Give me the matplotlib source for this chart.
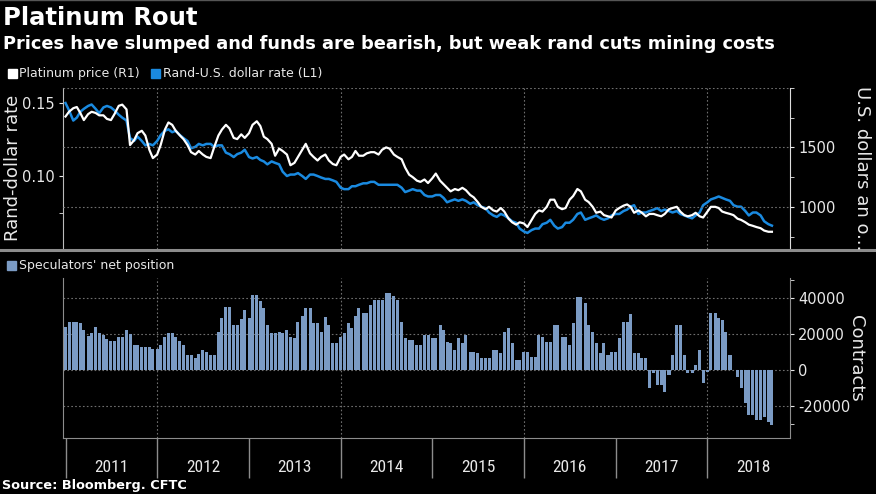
import matplotlib
matplotlib.use('Agg')
import matplotlib.pyplot as plt
from matplotlib import font_manager
from matplotlib.lines import Line2D
from matplotlib.patches import Rectangle
import pandas as pd

# semi-monthly readings, Jan 2011 - Sep 2018
platinum = [
    1760, 1800, 1830, 1840, 1790, 1730, 1780, 1800, 1790, 1770, 1770, 1740,
    1730, 1780, 1850, 1860, 1820, 1520, 1560, 1620, 1640, 1600, 1480, 1410,
    1440, 1520, 1650, 1710, 1690, 1640, 1600, 1570, 1520, 1460, 1440, 1470,
    1440, 1420, 1410, 1500, 1600, 1650, 1690, 1660, 1580, 1570, 1610, 1580,
    1620, 1690, 1720, 1680, 1590, 1570, 1530, 1430, 1490, 1470, 1440, 1350,
    1370, 1420, 1480, 1530, 1450, 1420, 1390, 1420, 1440, 1390, 1360, 1350,
    1420, 1440, 1400, 1420, 1470, 1430, 1430, 1450, 1460, 1460, 1440, 1480,
    1500, 1490, 1440, 1420, 1400, 1330, 1270, 1250, 1220, 1210, 1230, 1200,
    1240, 1280, 1220, 1190, 1160, 1130, 1150, 1140, 1160, 1140, 1100, 1080,
    1040, 1000, 980, 1000, 970, 960, 990, 960, 900, 870, 850, 870,
    860, 830, 890, 940, 970, 960, 1000, 1060, 1060, 1000, 980, 990,
    1060, 1090, 1150, 1130, 1060, 1040, 1000, 950, 960, 930, 920, 910,
    970, 990, 1010, 1020, 1000, 950, 970, 950, 920, 940, 940, 930,
    920, 940, 980, 990, 1000, 960, 930, 920, 930, 950, 920, 910,
    960, 1000, 1000, 990, 960, 950, 940, 930, 900, 890, 870, 850,
    840, 830, 820, 800, 790, 790,
]

rand_usd = [
    0.150, 0.145, 0.138, 0.140, 0.144, 0.146, 0.148, 0.149, 0.146, 0.143, 0.147, 0.148,
    0.147, 0.145, 0.142, 0.140, 0.138, 0.126, 0.124, 0.127, 0.124, 0.121, 0.122, 0.121,
    0.124, 0.128, 0.131, 0.132, 0.130, 0.131, 0.128, 0.126, 0.124, 0.119, 0.120, 0.122,
    0.121, 0.122, 0.122, 0.120, 0.121, 0.121, 0.116, 0.115, 0.113, 0.115, 0.116, 0.118,
    0.113, 0.112, 0.113, 0.111, 0.110, 0.108, 0.110, 0.109, 0.108, 0.103, 0.100, 0.101,
    0.101, 0.102, 0.100, 0.098, 0.101, 0.101, 0.100, 0.099, 0.098, 0.098, 0.097, 0.096,
    0.092, 0.091, 0.091, 0.093, 0.093, 0.094, 0.095, 0.095, 0.096, 0.096, 0.094, 0.094,
    0.094, 0.094, 0.094, 0.094, 0.092, 0.089, 0.090, 0.091, 0.090, 0.090, 0.087, 0.086,
    0.086, 0.087, 0.087, 0.085, 0.082, 0.083, 0.084, 0.083, 0.084, 0.083, 0.081, 0.082,
    0.080, 0.079, 0.078, 0.075, 0.073, 0.072, 0.074, 0.073, 0.071, 0.069, 0.068, 0.064,
    0.062, 0.061, 0.063, 0.064, 0.064, 0.067, 0.068, 0.070, 0.066, 0.064, 0.065, 0.068,
    0.068, 0.070, 0.074, 0.075, 0.070, 0.071, 0.072, 0.073, 0.071, 0.070, 0.071, 0.073,
    0.074, 0.074, 0.076, 0.077, 0.079, 0.080, 0.074, 0.075, 0.075, 0.076, 0.077, 0.078,
    0.076, 0.077, 0.076, 0.075, 0.076, 0.074, 0.073, 0.072, 0.071, 0.073, 0.075, 0.080,
    0.082, 0.084, 0.085, 0.086, 0.085, 0.084, 0.083, 0.080, 0.079, 0.079, 0.076, 0.073,
    0.075, 0.075, 0.073, 0.069, 0.067, 0.066,
]

# thousands of contracts
specs_k = [
    23.9, 26.7, 26.7, 26.7, 26, 22, 19, 20.5, 24, 20.5, 19.4, 17,
    16, 16, 18, 18, 22, 20, 14, 14, 12.8, 12.8, 12.5, 11.7,
    11.7, 14, 18, 20.6, 20.6, 18.3, 16, 14, 8.3, 8.3, 6.7, 9,
    11, 10, 8.3, 8.3, 21, 29, 35, 35, 25, 25, 28, 33,
    29, 41.7, 41.7, 38, 34.4, 25, 20.6, 20.6, 21, 20.6, 22, 18,
    17.8, 26.7, 30, 34.4, 34.4, 26, 26, 21, 29.4, 25, 15, 15,
    18, 20.6, 26, 23.3, 30, 34.4, 31.7, 31.7, 36, 38.9, 38.9, 38.9,
    42.8, 42.8, 41, 38.9, 26.7, 17.8, 16.7, 16.7, 13.9, 13.9, 19.4, 19.4,
    17.8, 17.8, 25, 22.2, 15.5, 15, 11.1, 17.8, 15, 19.4, 10, 10,
    9.4, 6.7, 6.7, 6.7, 11.1, 11.1, 9.4, 21.1, 23.3, 15, 5.6, 5.6,
    10, 10, 7.2, 7.2, 19.4, 18.3, 15.5, 15.5, 25, 25, 18.3, 18.3,
    13.9, 26.1, 40.5, 40.5, 37.2, 25, 21.1, 15, 9.4, 15, 8.3, 10,
    10, 17.8, 26.7, 26.7, 31.1, 9.4, 9.4, 6.7, 6.7, -10, -1.7, -8.3,
    -8.3, -12.2, -2.8, 8.3, 25, 25, 8.3, -1.7, -1.7, 2.8, 11.1, -7.2,
    -1.1, 31.7, 31.7, 28.9, 27.8, 21.1, 8.3, 0, -3.9, -10, -18.3, -25,
    -25, -27.8, -27.8, -26.1, -28.9, -30.6,
]

years = [2011, 2012, 2013, 2014, 2015, 2016, 2017, 2018]
grid_years = [2012, 2014, 2016, 2018]

dates = pd.date_range('2011-01-01', periods=len(platinum), freq='SMS')
specs = [v * 1000 for v in specs_k]

BG = 'black'
WHITE = '#ffffff'
BLUE = '#1a8ae0'
BARC = '#7b9bc4'
GRIDC = '#6e6e6e'
TXT = '#e8e8e8'
SEP = '#8c8c8c'


def pick(*names):
    avail = {f.name for f in font_manager.fontManager.ttflist}
    for n in names:
        if n in avail:
            return n
    return 'DejaVu Sans'


narrow = pick('Liberation Sans Narrow', 'Roboto Condensed', 'DejaVu Sans')
plt.rcParams['font.family'] = 'DejaVu Sans'

W, H = 876, 494
fig = plt.figure(figsize=(W / 100, H / 100), dpi=100, facecolor=BG)


def fx(px):
    return px / W


def fy(py):
    return 1 - py / H


xmin = pd.Timestamp('2010-12-22')
xmax = pd.Timestamp('2018-11-26')

# ---- top panel
ax1 = fig.add_axes([fx(63), fy(249), fx(727), 161 / H], facecolor=BG)
ax1r = ax1.twinx()

ax1.plot(dates, rand_usd, color=BLUE, lw=1.8, zorder=3)
ax1r.plot(dates, platinum, color=WHITE, lw=1.6, zorder=3)

ax1.set_xlim(xmin, xmax)
ax1.set_ylim(0.05, 0.1603)
ax1r.set_ylim(645, 2000)

ax1.set_yticks([0.10, 0.15])
ax1.set_yticklabels(['0.10', '0.15'])
ax1.set_yticks([0.05, 0.075], minor=True)
ax1r.set_yticks([1000, 1500])
ax1r.set_yticks([750, 1250, 1750, 2000], minor=True)

for a in (ax1, ax1r):
    a.tick_params(axis='x', bottom=False, labelbottom=False, top=False)
    for s in a.spines.values():
        s.set_visible(False)
ax1.spines['left'].set_visible(True)
ax1.spines['left'].set_color('#bbbbbb')
ax1r.spines['right'].set_visible(True)
ax1r.spines['right'].set_color('#dddddd')

ax1.tick_params(axis='y', which='both', colors=TXT, labelsize=10.5, length=3, pad=3)
ax1r.tick_params(axis='y', which='both', colors=TXT, labelsize=10.5, length=3, pad=3)

for v in [1000, 1500, 2000]:
    ax1r.axhline(v, color=GRIDC, lw=0.8, ls=(0, (1.5, 2)), zorder=1)
for y in grid_years:
    ax1.axvline(pd.Timestamp(f'{y}-01-01'), color=GRIDC, lw=0.8, ls=(0, (1.5, 2)), zorder=1)

# ---- bottom panel
ax2 = fig.add_axes([fx(63), fy(438), fx(727), 160 / H], facecolor=BG)
ax2.bar(dates, specs, width=12, color=BARC, zorder=3)
ax2.set_xlim(xmin, xmax)
ax2.set_ylim(-37800, 51000)

ax2.yaxis.tick_right()
ax2.set_yticks([-20000, 0, 20000, 40000])
ax2.set_yticklabels(['-20000', '0', '20000', '40000'])
ax2.set_yticks([-30000, 50000], minor=True)
ax2.tick_params(axis='y', which='both', colors=TXT, labelsize=10.5, length=3, pad=3)

for v in [-20000, 0, 20000, 40000]:
    ax2.axhline(v, color=GRIDC, lw=0.8, ls=(0, (1.5, 2)), zorder=1)
for y in grid_years:
    ax2.axvline(pd.Timestamp(f'{y}-01-01'), color=GRIDC, lw=0.8, ls=(0, (1.5, 2)), zorder=1)

ax2.spines['top'].set_visible(False)
for side in ('left', 'bottom', 'right'):
    ax2.spines[side].set_color(SEP)

ax2.set_xticks([pd.Timestamp(f'{y}-01-01') for y in years])
ax2.set_xticklabels([])
ax2.set_xticks([pd.Timestamp(f'{y}-07-02') for y in years], minor=True)
ax2.set_xticklabels([str(y) for y in years], minor=True, fontfamily=narrow)
ax2.tick_params(axis='x', which='major', length=28.8, width=1, color=SEP, direction='out')
ax2.tick_params(axis='x', which='minor', length=0, pad=16, labelsize=12.5, colors=TXT)

# separator between panels
fig.add_artist(Line2D([0, 1], [fy(250), fy(250)], color=SEP, lw=2.2))
fig.add_artist(Line2D([0, 1], [fy(0.5), fy(0.5)], color='#555555', lw=1))

# ---- texts
fig.text(fx(3), fy(18), 'Platinum Rout', color=WHITE, fontsize=17.5,
         fontweight='bold', va='center', ha='left')
fig.text(fx(3), fy(44), 'Prices have slumped and funds are bearish, but weak rand cuts mining costs',
         color=WHITE, fontsize=12.8, fontweight='bold', va='center', ha='left')

# legends
fig.add_artist(Rectangle((fx(8), fy(78)), fx(9), 9 / H, color=WHITE, transform=fig.transFigure))
fig.text(fx(19), fy(73), 'Platinum price (R1)', color=TXT, fontsize=9, va='center')
fig.add_artist(Rectangle((fx(151), fy(78)), fx(9), 9 / H, color=BLUE, transform=fig.transFigure))
fig.text(fx(163), fy(73), 'Rand-U.S. dollar rate (L1)', color=TXT, fontsize=9, va='center')

fig.add_artist(Rectangle((fx(7), fy(270)), fx(9), 9 / H, color=BARC, transform=fig.transFigure))
fig.text(fx(19), fy(265), "Speculators' net position", color=TXT, fontsize=9, va='center')

# axis titles
fig.text(fx(13), fy(168), 'Rand-dollar rate', color=TXT, fontsize=13, rotation=90,
         va='center', ha='center')
fig.text(fx(862), fy(168), 'U.S. dollars an o...', color=TXT, fontsize=13, rotation=270,
         va='center', ha='center')
fig.text(fx(856), fy(358), 'Contracts', color=TXT, fontsize=13, rotation=270,
         va='center', ha='center')

fig.text(fx(2), fy(485), 'Source: Bloomberg. CFTC', color=WHITE, fontsize=9.3,
         fontweight='bold', va='center', ha='left')

fig.savefig('out.png', dpi=100, facecolor=BG)
